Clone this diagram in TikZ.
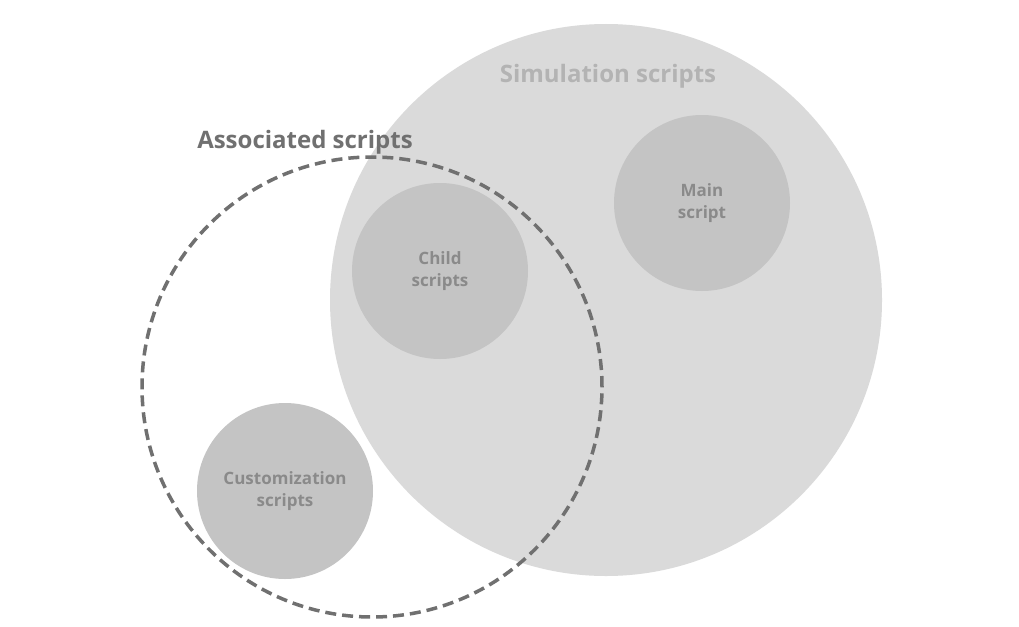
\documentclass[tikz,border=0pt]{standalone}
\usepackage{fontspec}
\setmainfont{Open Sans}
\definecolor{bigc}{HTML}{DADADA}
\definecolor{smallc}{HTML}{C4C4C4}
\definecolor{lbl}{HTML}{8A8A8A}
\definecolor{simt}{HTML}{B3B3B3}
\definecolor{asst}{HTML}{707070}
\begin{document}
\begin{tikzpicture}[x=1pt,y=-1pt,
  sub/.style={circle,fill=smallc,minimum size=176pt,inner sep=0pt,align=center,text=lbl,font=\fontsize{17}{22}\selectfont\bfseries}]
\useasboundingbox (0,0) rectangle (1019,626);
\fill[white] (0,0) rectangle (1019,626);
\node[circle,fill=bigc,minimum size=552pt,inner sep=0pt] (sim) at (606,300) {};
\node[sub] (main) at (702,203) {Main\\script};
\node[sub] (child) at (440,271) {Child\\scripts};
\node[sub] (cust) at (285,491) {Customization\\scripts};
\node[circle,draw=asst,line width=3.5pt,dash pattern=on 11pt off 6pt,minimum size=460pt,inner sep=0pt] (assoc) at (372,387) {};
\node[text=simt,font=\fontsize{24}{28}\selectfont\bfseries] (simlbl) at (608,76) {Simulation scripts};
\node[text=asst,font=\fontsize{24}{28}\selectfont\bfseries] (asslbl) at (305,142) {Associated scripts};
\end{tikzpicture}
\end{document}
